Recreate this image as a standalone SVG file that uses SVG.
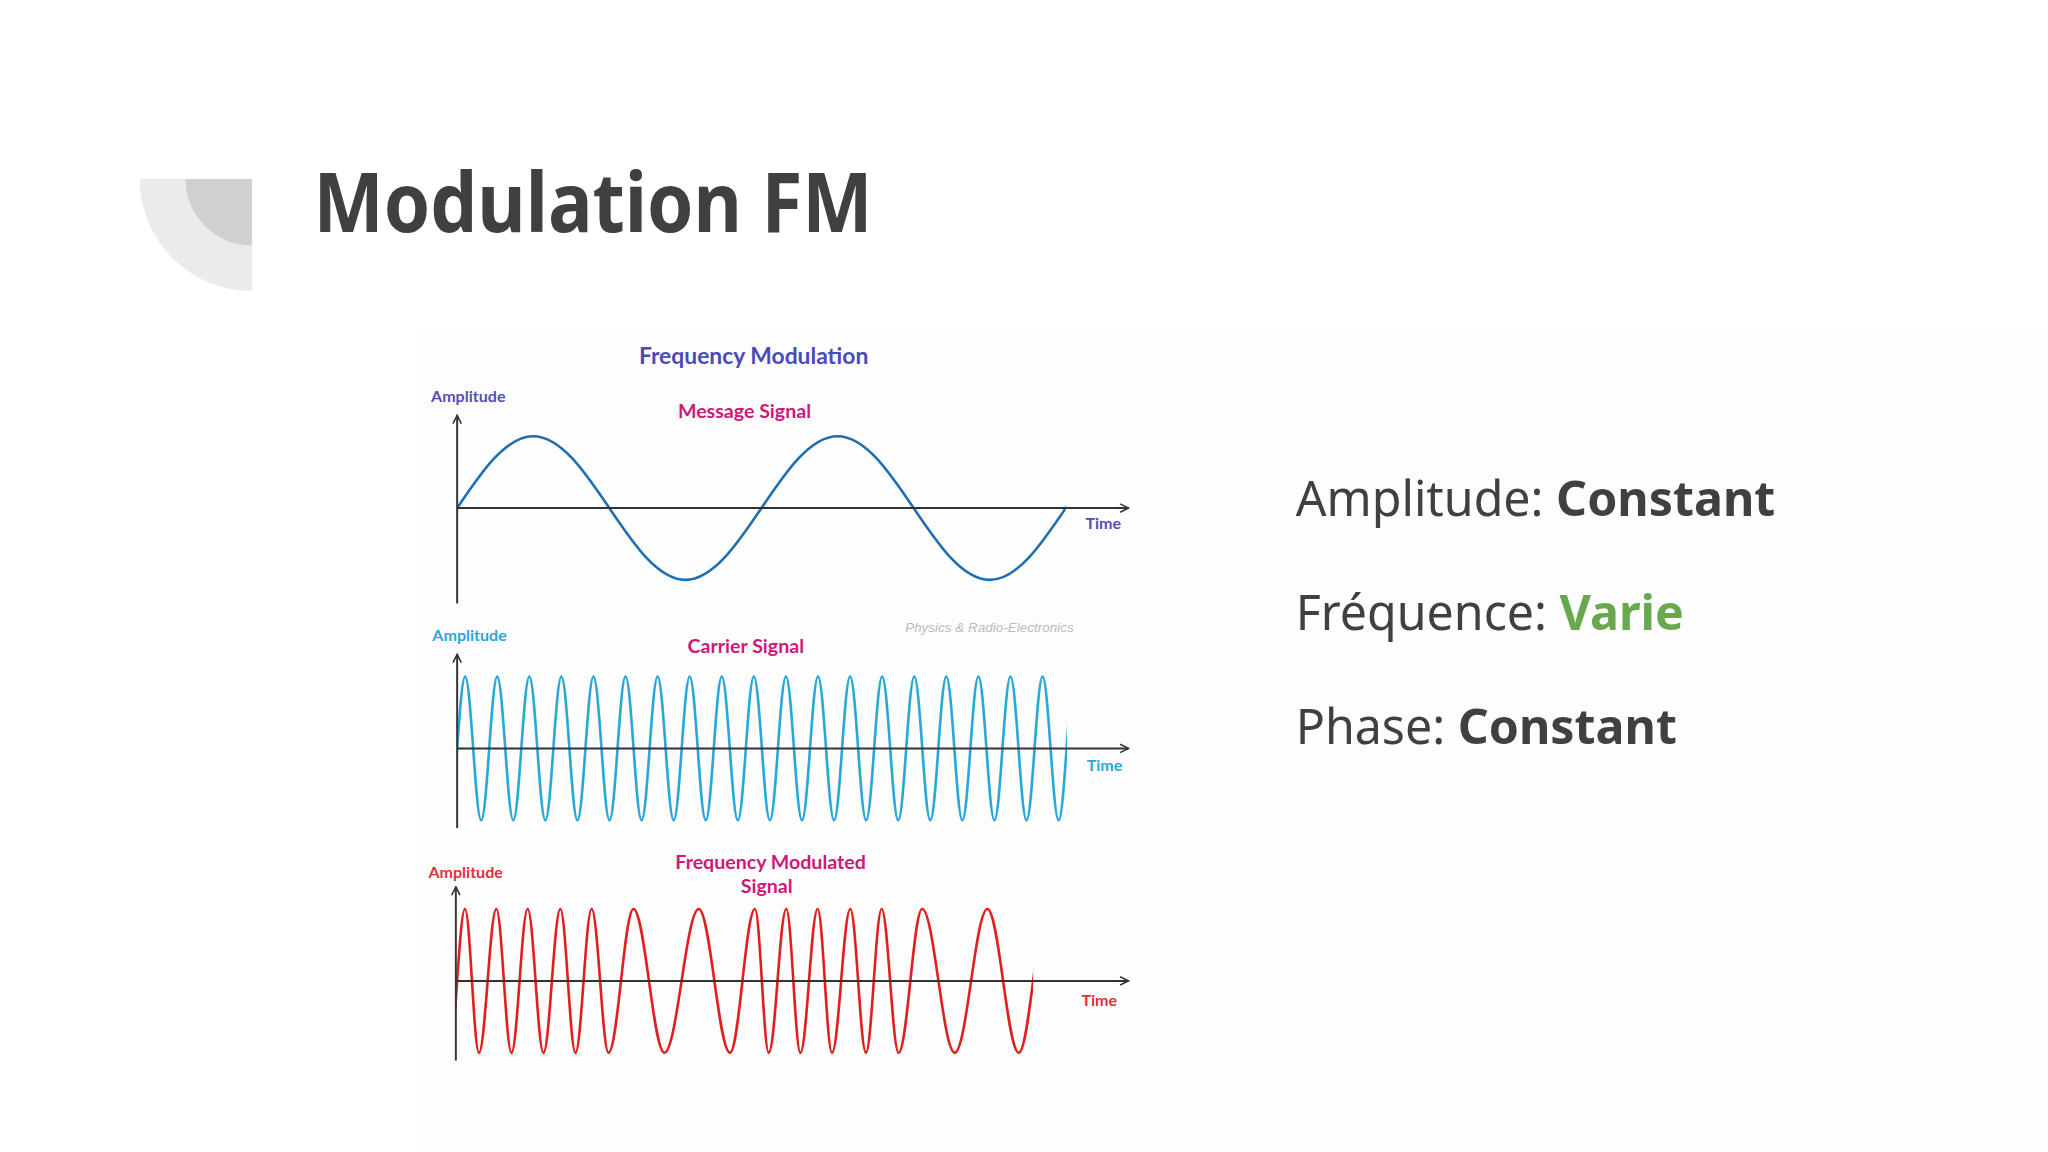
<svg xmlns="http://www.w3.org/2000/svg" width="2048" height="1152" viewBox="0 0 2048 1152">
<style>
.ax{stroke:#333;stroke-width:1.5;fill:none}
.lbl{font-family:Lato,"Noto Sans",sans-serif;font-weight:bold}
.rt{font-family:"Noto Sans",sans-serif;font-size:37px;fill:#404040}
</style>
<defs>
<marker id="ar" viewBox="0 0 10 10" refX="9" refY="5" markerWidth="8" markerHeight="8" markerUnits="userSpaceOnUse" orient="auto"><polyline points="1,1 9,5 1,9" fill="none" stroke="#333" stroke-width="1.5"/></marker>
<clipPath id="c1"><rect x="350" y="300" width="466" height="170"/></clipPath>
<clipPath id="c2"><rect x="350" y="500" width="467" height="140"/></clipPath>
<clipPath id="c3"><rect x="349" y="680" width="442" height="140"/></clipPath>
</defs>
<rect width="2048" height="1152" fill="#fff"/>
<g transform="scale(1.30612)">
<g id="deco">
<path d="M107,137 A86,86 0 0 0 193,223 L193,137 Z" fill="#ebebeb"/>
<path d="M142,137 A51,51 0 0 0 193,188 L193,137 Z" fill="#d0d0d0"/>
</g>
<text id="title" x="240" y="178" font-family="'Noto Sans',sans-serif" font-weight="bold" font-size="63" fill="#404040" textLength="428" lengthAdjust="spacingAndGlyphs">Modulation FM</text>
<rect x="320" y="255" width="1248" height="627" fill="#fdfdfd"/>
<g id="chart1">
<text class="lbl" x="577" y="279" text-anchor="middle" font-size="17.5" fill="#4b4bb8">Frequency Modulation</text>
<text class="lbl" x="330" y="308" font-size="12.3" fill="#5050b0">Amplitude</text>
<text class="lbl" x="570" y="320" text-anchor="middle" font-size="15" fill="#d0177a">Message Signal</text>
<text class="lbl" x="831" y="405" font-size="12.3" fill="#5050b0">Time</text>
<path d="M291.75,444 C334.05,444 365.95,334 408.25,334 C450.55,334 482.45,444 524.75,444 C567.05,444 598.95,334 641.25,334 C683.55,334 715.45,444 757.75,444 C800.05,444 831.95,334 874.25,334" fill="none" stroke="#1f6fb0" stroke-width="2" clip-path="url(#c1)"/>
</g>
<g id="chart2">
<text class="lbl" x="331" y="491" font-size="12.3" fill="#29a8d8">Amplitude</text>
<text class="lbl" x="571" y="500" text-anchor="middle" font-size="15" fill="#d0177a">Carrier Signal</text>
<text x="693" y="484" font-family="'Liberation Sans',sans-serif" font-style="italic" font-size="10" fill="#bbb" textLength="129" lengthAdjust="spacingAndGlyphs">Physics &amp; Radio-Electronics</text>
<text class="lbl" x="832" y="590" font-size="12.3" fill="#29a8d8">Time</text>
<path d="M343.86,628 c4.46,0 7.82,-110 12.28,-110 c4.46,0 7.82,110 12.28,110 c4.46,0 7.82,-110 12.28,-110 c4.46,0 7.82,110 12.28,110 c4.46,0 7.82,-110 12.28,-110 c4.46,0 7.82,110 12.28,110 c4.46,0 7.82,-110 12.28,-110 c4.46,0 7.82,110 12.28,110 c4.46,0 7.82,-110 12.28,-110 c4.46,0 7.82,110 12.28,110 c4.46,0 7.82,-110 12.28,-110 c4.46,0 7.82,110 12.28,110 c4.46,0 7.82,-110 12.28,-110 c4.46,0 7.82,110 12.28,110 c4.46,0 7.82,-110 12.28,-110 c4.46,0 7.82,110 12.28,110 c4.46,0 7.82,-110 12.28,-110 c4.46,0 7.82,110 12.28,110 c4.46,0 7.82,-110 12.28,-110 c4.46,0 7.82,110 12.28,110 c4.46,0 7.82,-110 12.28,-110 c4.46,0 7.82,110 12.28,110 c4.46,0 7.82,-110 12.28,-110 c4.46,0 7.82,110 12.28,110 c4.46,0 7.82,-110 12.28,-110 c4.46,0 7.82,110 12.28,110 c4.46,0 7.82,-110 12.28,-110 c4.46,0 7.82,110 12.28,110 c4.46,0 7.82,-110 12.28,-110 c4.46,0 7.82,110 12.28,110 c4.46,0 7.82,-110 12.28,-110 c4.46,0 7.82,110 12.28,110 c4.46,0 7.82,-110 12.28,-110 c4.46,0 7.82,110 12.28,110 c4.46,0 7.82,-110 12.28,-110 c4.46,0 7.82,110 12.28,110 c4.46,0 7.82,-110 12.28,-110 c4.46,0 7.82,110 12.28,110 c4.46,0 7.82,-110 12.28,-110" fill="none" stroke="#29a8d8" stroke-width="2" clip-path="url(#c2)"/>
</g>
<g id="chart3">
<text class="lbl" x="328" y="672" font-size="12.3" fill="#e0303a">Amplitude</text>
<text class="lbl" x="590" y="665" text-anchor="middle" font-size="15" fill="#d0177a">Frequency Modulated</text>
<text class="lbl" x="587" y="684" text-anchor="middle" font-size="15" fill="#d0177a">Signal</text>
<text class="lbl" x="828" y="770" font-size="12.3" fill="#e0303a">Time</text>
<path d="M344,806 C348.36,806 351.64,696 356,696 C359.89,696 362.81,806 366.7,806 C371.53,806 375.17,696 380,696 C384.22,696 387.38,806 391.6,806 C396.11,806 399.49,696 404,696 C408.4,696 411.7,806 416.1,806 C420.79,806 424.31,696 429,696 C433.22,696 436.38,806 440.6,806 C445.11,806 448.49,696 453,696 C457.69,696 461.21,806 465.9,806 C472.84,806 478.06,696 485,696 C493.61,696 500.09,806 508.7,806 C518.26,806 525.44,696 535,696 C543.69,696 550.21,806 558.9,806 C565.84,806 571.06,696 578,696 C581.85,696 584.75,806 588.6,806 C593.47,806 597.13,696 602,696 C605.92,696 608.88,806 612.8,806 C617.6,806 621.2,696 626,696 C630,696 633,806 637,806 C642.09,806 645.91,696 651,696 C655.36,696 658.64,806 663,806 C667.36,806 670.64,696 675,696 C679.72,696 683.28,806 688,806 C694.54,806 699.46,696 706,696 C715.09,696 721.91,806 731,806 C740.09,806 746.91,696 756,696 C764.72,696 771.28,806 780,806 C788,806 794,696 802,696" fill="none" stroke="#e0201f" stroke-width="2" clip-path="url(#c3)"/>
</g>
<g id="connectors">
<line class="ax" x1="350" y1="462" x2="350" y2="318" marker-end="url(#ar)"/>
<line class="ax" x1="350" y1="389" x2="864" y2="389" marker-end="url(#ar)"/>
<line class="ax" x1="350" y1="634" x2="350" y2="501" marker-end="url(#ar)"/>
<line class="ax" x1="350" y1="573" x2="864" y2="573" marker-end="url(#ar)"/>
<line class="ax" x1="349" y1="812" x2="349" y2="679" marker-end="url(#ar)"/>
<line class="ax" x1="349" y1="751" x2="864" y2="751" marker-end="url(#ar)"/>
</g>
<g id="props">
<text class="rt" x="992" y="395">Amplitude: <tspan font-weight="bold">Constant</tspan></text>
<text class="rt" x="992" y="482">Fréquence: <tspan font-weight="bold" fill="#6aa84f">Varie</tspan></text>
<text class="rt" x="992" y="570">Phase: <tspan font-weight="bold">Constant</tspan></text>
</g>
</g>
</svg>
